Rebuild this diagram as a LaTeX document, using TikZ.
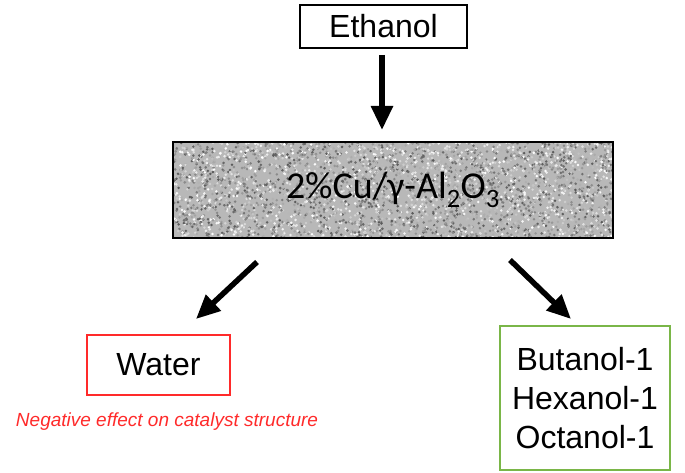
\documentclass[tikz,border=0pt]{standalone}
\usepackage{fontspec}
\setmainfont{Liberation Sans}
\newfontfamily\calfont{Carlito}
\usetikzlibrary{arrows.meta}
\definecolor{boxred}{HTML}{FF2A2A}
\definecolor{boxgreen}{HTML}{7AB648}
\begin{document}
\begin{tikzpicture}[x=1pt,y=-1pt,
  bigarrow/.style={line width=5.5pt,-{Triangle[length=24pt,width=21pt]}},
  txt/.style={font=\fontsize{32}{39}\selectfont}]
\useasboundingbox (0,0) rectangle (685,473);
% catalyst box with noise texture
\fill[white!72!black] (173,142) rectangle (613,238);
\pgfmathsetseed{4242}
\begin{scope}
\clip (173,142) rectangle (613,238);
\foreach \i in {1,...,3600}{
  \pgfmathsetmacro{\xx}{173+440*rnd}
  \pgfmathsetmacro{\yy}{142+96*rnd}
  \pgfmathsetmacro{\gg}{35+65*rnd}
  \fill[white!\gg!black] (\xx,\yy) circle (1.4);
}
\end{scope}
\node[draw=black,line width=1.3pt,minimum width=440pt,minimum height=96pt,inner sep=0pt,
  font=\calfont\fontsize{38}{40}\selectfont] (cat) at (393,190) {2\%Cu/γ-Al\textsubscript{2}O\textsubscript{3}};
% Ethanol
\node[draw=black,line width=1.3pt,minimum width=167pt,minimum height=43pt,inner sep=0pt,txt] (eth) at (383.5,26.5) {Ethanol};
% Water
\node[draw=boxred,line width=1.3pt,minimum width=143pt,minimum height=60pt,inner sep=0pt,txt] (wat) at (158.5,365) {Water};
\node[text=boxred,font=\itshape\fontsize{19}{22}\selectfont,anchor=center] (neg) at (167,422) {Negative effect on catalyst structure};
% Products
\node[draw=boxgreen,line width=1.3pt,minimum width=170pt,minimum height=144pt,inner sep=0pt,txt,align=center] (prod) at (585,398) {Butanol-1\\Hexanol-1\\Octanol-1};
% arrows
\coordinate (a1s) at (382,55);
\coordinate (a1e) at (382,130);
\coordinate (a2s) at (257,262);
\coordinate (a2e) at (196,319);
\coordinate (a3s) at (510,260);
\coordinate (a3e) at (571,319);
\draw[bigarrow] (a1s) -- (a1e);
\draw[bigarrow] (a2s) -- (a2e);
\draw[bigarrow] (a3s) -- (a3e);
\end{tikzpicture}
\end{document}
